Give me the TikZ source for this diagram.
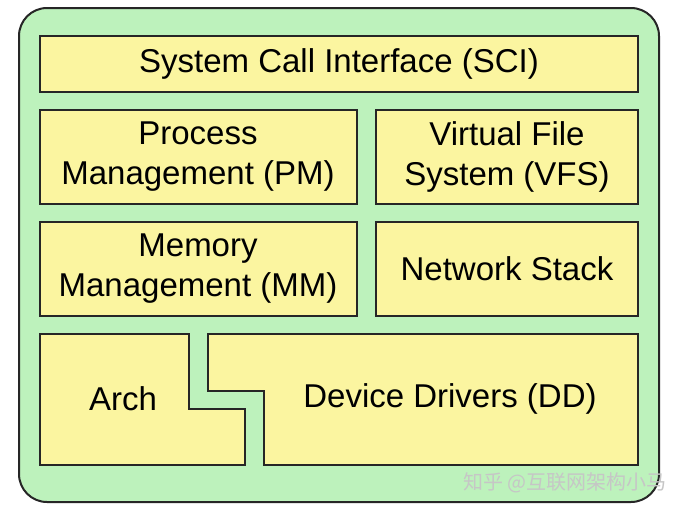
\documentclass[tikz,border=0pt]{standalone}
\usepackage{fontspec}
\setmainfont{Liberation Sans}
\newfontfamily\cjk{Noto Sans CJK SC}
\definecolor{kgreen}{HTML}{BDF2BC}
\definecolor{kyellow}{HTML}{FBF5A0}
\begin{document}
\begin{tikzpicture}[x=1pt,y=-1pt]
  \tikzstyle{every node}+=[inner sep=0pt, font=\fontsize{33}{40}\selectfont, align=center]
  \tikzstyle{part}=[draw=black!85, line width=1.8pt, fill=kyellow]
  \useasboundingbox (0,0) rectangle (688,512);
  \fill [white] (0,0) rectangle (688,512);
  \draw [draw=black!85, line width=2pt, fill=kgreen, rounded corners=28pt] (19,8) rectangle (659,502);
  \draw [part] (40,36) rectangle (638,92);
  \node (sci) at (339,64) {System Call Interface (SCI)};
  \draw [part] (40,110) rectangle (357,204);
  \node (pm) at (198,157) {Process\\Management (PM)};
  \draw [part] (376,110) rectangle (638,204);
  \node (vfs) at (507,157) {Virtual File\\System (VFS)};
  \draw [part] (40,222) rectangle (357,316);
  \node (mm) at (198,269) {Memory\\Management (MM)};
  \draw [part] (376,222) rectangle (638,316);
  \node (ns) at (507,269) {Network Stack};
  \draw [part] (40,334) -- (189,334) -- (189,409) -- (245,409) -- (245,465) -- (40,465) -- cycle;
  \node (arch) at (123,399) {Arch};
  \draw [part] (208,334) -- (638,334) -- (638,465) -- (264,465) -- (264,391) -- (208,391) -- cycle;
  \node (dd) at (450,399) {Device Drivers (DD)};
  \node (wm) [font=\cjk\fontsize{20}{24}\selectfont, text=white!55!gray] at (565,483) {知乎 @互联网架构小马};
\end{tikzpicture}
\end{document}
